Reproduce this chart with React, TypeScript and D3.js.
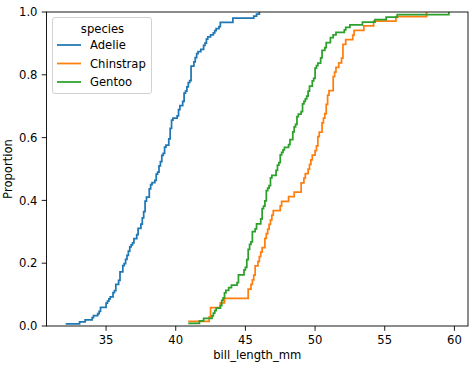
import * as d3 from "d3";
import { useEffect } from "react";

// bill_length_mm per species (NaNs removed)
const adelie = [
  39.1, 39.5, 40.3, 36.7, 39.3, 38.9, 39.2, 34.1, 42.0, 37.8, 37.8, 41.1, 38.6, 34.6, 36.6, 38.7,
  42.5, 34.4, 46.0, 37.8, 37.7, 35.9, 38.2, 38.8, 35.3, 40.6, 40.5, 37.9, 40.5, 39.5, 37.2, 39.5,
  40.9, 36.4, 39.2, 38.8, 42.2, 37.6, 39.8, 36.5, 40.8, 36.0, 44.1, 37.0, 39.6, 41.1, 37.5, 36.0,
  42.3, 39.6, 40.1, 35.0, 42.0, 34.5, 41.4, 39.0, 40.6, 36.5, 37.6, 35.7, 41.3, 37.6, 41.1, 36.4,
  41.6, 35.5, 41.1, 35.9, 41.8, 33.5, 39.7, 39.6, 45.8, 35.5, 42.8, 40.9, 37.2, 36.2, 42.1, 34.6,
  42.9, 36.7, 35.1, 37.3, 41.3, 36.3, 36.9, 38.3, 38.9, 35.7, 41.1, 34.0, 39.6, 36.2, 40.8, 38.1,
  40.3, 33.1, 43.2, 35.0, 41.0, 37.7, 37.8, 37.9, 39.7, 38.6, 38.2, 38.1, 43.2, 38.1, 45.6, 39.7,
  42.2, 39.6, 42.7, 38.6, 37.3, 35.7, 41.1, 36.2, 37.7, 40.2, 41.4, 35.2, 40.6, 38.8, 41.5, 39.0,
  44.1, 38.5, 43.1, 36.8, 37.5, 38.1, 41.1, 35.6, 40.2, 37.0, 39.7, 40.2, 40.6, 32.1, 40.7, 37.3,
  39.0, 39.2, 36.6, 36.0, 37.8, 36.0, 41.5,
];
const chinstrap = [
  46.5, 50.0, 51.3, 45.4, 52.7, 45.2, 46.1, 51.3, 46.0, 51.3, 46.6, 51.7, 47.0, 52.0, 45.9, 50.5,
  50.3, 58.0, 46.4, 49.2, 42.4, 48.5, 43.2, 50.6, 46.7, 52.0, 50.5, 49.5, 46.4, 52.8, 40.9, 54.2,
  42.5, 51.0, 49.7, 47.5, 47.6, 52.0, 46.9, 53.5, 49.0, 46.2, 50.9, 45.5, 50.9, 50.8, 50.1, 49.0,
  51.5, 49.8, 48.1, 51.4, 45.7, 50.7, 42.5, 52.2, 45.2, 49.3, 50.2, 45.6, 51.9, 46.8, 45.7, 55.8,
  43.5, 49.6, 50.8, 50.2,
];
const gentoo = [
  46.1, 50.0, 48.7, 50.0, 47.6, 46.5, 45.4, 46.7, 43.3, 46.8, 40.9, 49.0, 45.5, 48.4, 45.8, 49.3,
  42.0, 49.2, 46.2, 48.7, 50.2, 45.1, 46.5, 46.3, 42.9, 46.1, 44.5, 47.8, 48.2, 50.0, 47.3, 42.8,
  45.1, 59.6, 49.1, 48.4, 42.6, 44.4, 44.0, 48.7, 42.7, 49.6, 45.3, 49.6, 50.5, 43.6, 45.5, 50.5,
  44.9, 45.2, 46.6, 48.5, 45.1, 50.1, 46.5, 45.0, 43.8, 45.5, 43.2, 50.4, 45.3, 46.2, 45.7, 54.3,
  45.8, 49.8, 46.2, 49.5, 43.5, 50.7, 47.7, 46.4, 48.2, 46.5, 46.4, 48.6, 47.5, 51.1, 45.2, 45.2,
  49.1, 52.5, 47.4, 50.0, 44.9, 50.8, 43.4, 51.3, 47.5, 52.1, 47.5, 52.2, 45.5, 49.5, 44.5, 50.8,
  49.4, 46.9, 48.4, 51.1, 48.5, 55.9, 47.2, 49.1, 47.3, 46.8, 41.7, 53.4, 43.3, 48.1, 50.5, 49.8,
  43.5, 51.5, 46.2, 55.1, 44.5, 48.8, 47.2, 46.8, 50.4, 45.2, 49.9,
];

const speciesNames = ["Adelie", "Chinstrap", "Gentoo"];
const speciesValues = [adelie, chinstrap, gentoo];
const colors = ["#1f77b4", "#ff7f0e", "#2ca02c"];
const xTicks = [35, 40, 45, 50, 55, 60];
const yTicks = [0, 0.2, 0.4, 0.6, 0.8, 1.0];

const W = 474;
const H = 367;
const margin = { top: 12, right: 6, bottom: 41, left: 46.5 };
const font = "DejaVu Sans, sans-serif";
const fs = 11.6;
const tickLen = 4.8;

export default function App() {
  useEffect(() => {
    document.body.style.margin = "0";
  }, []);

  const all = speciesValues.flat();
  const lo = d3.min(all)!;
  const hi = d3.max(all)!;
  const pad = (hi - lo) * 0.05;

  const x = d3
    .scaleLinear()
    .domain([lo - pad, hi + pad])
    .range([margin.left, W - margin.right]);
  const y = d3
    .scaleLinear()
    .domain([0, 1])
    .range([H - margin.bottom, margin.top]);

  const line = d3
    .line<[number, number]>()
    .x((d) => x(d[0]))
    .y((d) => y(d[1]))
    .curve(d3.curveStepAfter);

  const ecdf = (vals: number[]): [number, number][] => {
    const s = vals.slice().sort((a, b) => a - b);
    return s.map((v, i) => [v, (i + 1) / s.length]);
  };

  const x0 = margin.left;
  const x1 = W - margin.right;
  const y0 = H - margin.bottom;
  const y1 = margin.top;

  return (
    <svg width={W} height={H} style={{ display: "block", fontFamily: font }}>
      <rect width={W} height={H} fill="white" />
      <defs>
        <clipPath id="plot-clip">
          <rect x={x0} y={y1} width={x1 - x0} height={y0 - y1} />
        </clipPath>
      </defs>

      <g clipPath="url(#plot-clip)">
        {speciesValues.map((vals, i) => (
          <path
            key={speciesNames[i]}
            d={line(ecdf(vals)) ?? ""}
            fill="none"
            stroke={colors[i]}
            strokeWidth={1.75}
          />
        ))}
      </g>

      {/* spines */}
      <rect x={x0} y={y1} width={x1 - x0} height={y0 - y1} fill="none" stroke="black" strokeWidth={0.9} />

      {/* x axis */}
      {xTicks.map((t) => (
        <g key={t} transform={`translate(${x(t)},${y0})`}>
          <line y2={tickLen} stroke="black" strokeWidth={0.9} />
          <text y={17.5} textAnchor="middle" fontSize={fs} fill="black">
            {t}
          </text>
        </g>
      ))}
      <text x={(x0 + x1) / 2} y={y0 + 32.5} textAnchor="middle" fontSize={fs} fill="black">
        bill_length_mm
      </text>

      {/* y axis */}
      {yTicks.map((t) => (
        <g key={t} transform={`translate(${x0},${y(t)})`}>
          <line x2={-tickLen} stroke="black" strokeWidth={0.9} />
          <text x={-9} dy="0.36em" textAnchor="end" fontSize={fs} fill="black">
            {t.toFixed(1)}
          </text>
        </g>
      ))}
      <text
        transform={`translate(11.8,${(y0 + y1) / 2}) rotate(-90)`}
        textAnchor="middle"
        fontSize={fs}
        fill="black"
      >
        Proportion
      </text>

      {/* legend */}
      <g transform={`translate(52.5,17.5)`}>
        <rect width={99} height={76} rx={2.5} fill="white" fillOpacity={0.8} stroke="#cccccc" strokeWidth={0.9} />
        <text x={50} y={15} textAnchor="middle" fontSize={fs} fill="black">
          species
        </text>
        {speciesNames.map((name, i) => (
          <g key={name} transform={`translate(0,${27.5 + i * 18.5})`}>
            <line x1={4.5} x2={28.5} stroke={colors[i]} strokeWidth={1.75} />
            <text x={37.5} dy="0.36em" fontSize={fs} fill="black">
              {name}
            </text>
          </g>
        ))}
      </g>
    </svg>
  );
}
